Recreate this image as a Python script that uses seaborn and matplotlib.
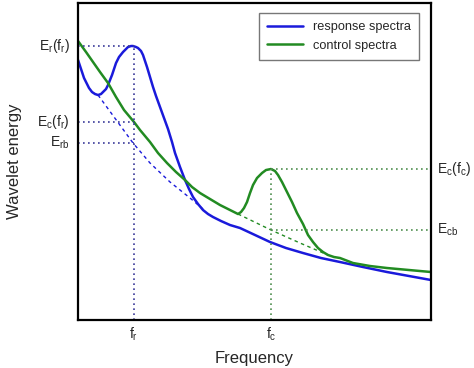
import pandas as pd
import matplotlib
matplotlib.use('Agg')
import matplotlib.pyplot as plt
import seaborn as sns

# curves (x: frequency, y: wavelet energy, arbitrary units)
resp_x = [0, 2, 4, 6, 9, 11, 14, 17, 20, 23, 25, 28, 30, 32, 34, 36, 38, 41, 45, 48,
          50, 53, 55, 58, 60, 63, 65, 67, 69, 72, 75, 78, 82, 86, 90, 94, 97, 102,
          107, 111, 115, 120, 125, 130, 135, 143, 152, 162, 177, 192, 208, 225, 243,
          262, 285, 309, 331, 353]
resp_y = [260, 254, 248, 242, 236, 232, 228, 226, 225, 226, 228, 231, 235, 240, 245,
          251, 257, 263, 268, 271, 273, 274, 274, 273, 272, 269, 265, 259, 253, 243,
          233, 224, 213, 202, 191, 178, 167, 153, 140, 131, 123, 116, 110, 106, 103,
          99, 95, 92, 85, 78, 72, 67, 62, 58, 53, 48, 44, 40]

resp_base_x = [20, 55, 72, 92, 112, 125]
resp_base_y = [225, 177, 157, 138, 122, 111]

ctrl_x = [0, 8, 15, 22, 30, 38, 46, 51, 56, 62, 67, 72, 80, 89, 98, 107, 114, 122,
          132, 142, 152, 156, 160, 163, 166, 169, 172, 175, 179, 184, 188, 193, 197,
          200, 204, 209, 214, 219, 225, 230, 235, 240, 245, 250, 256, 262, 275, 292,
          309, 331, 353]
ctrl_y = [279, 268, 258, 248, 237, 223, 210, 204, 198, 190, 184, 178, 167, 157, 148,
          140, 133, 127, 121, 115, 110, 108, 106, 108, 112, 118, 127, 135, 142, 147,
          150, 151, 149, 145, 138, 128, 118, 107, 96, 85, 78, 72, 68, 65, 63, 62, 57,
          54, 52, 50, 48]

ctrl_base_x = [160, 193, 222, 250]
ctrl_base_y = [106, 90, 77, 65]

f_r, f_c = 56, 193
E_r_fr, E_c_fr, E_rb = 274, 198, 177
E_c_fc, E_cb = 151, 90

blue = '#1a1adb'
green = '#228b22'
dot_blue = '#3a3a9a'
dot_green = '#4f8f4f'

sns.set_style('white')
plt.rcParams['font.family'] = ['Liberation Sans', 'DejaVu Sans']
plt.rcParams['mathtext.fontset'] = 'custom'
plt.rcParams['mathtext.rm'] = 'Liberation Sans'

fig = plt.figure(figsize=(4.74, 3.68), dpi=100)
ax = fig.add_axes([0.1646, 0.1304, 0.7447, 0.8614])

resp = pd.DataFrame({'x': resp_x, 'y': resp_y})
ctrl = pd.DataFrame({'x': ctrl_x, 'y': ctrl_y})
sns.lineplot(data=resp, x='x', y='y', color=blue, lw=1.8, label='response spectra',
             ax=ax, sort=False, solid_joinstyle='round')
sns.lineplot(data=ctrl, x='x', y='y', color=green, lw=1.8, label='control spectra',
             ax=ax, sort=False, solid_joinstyle='round')
ax.plot(resp_base_x, resp_base_y, color=blue, lw=1.0, ls=(0, (2.5, 2.5)))
ax.plot(ctrl_base_x, ctrl_base_y, color=green, lw=1.0, ls=(0, (2.5, 2.5)))

dots = (0, (1, 2))
xmax, ymin = 353, 0
# response markers
ax.plot([0, f_r], [E_r_fr, E_r_fr], color=dot_blue, lw=1.2, ls=dots)
ax.plot([0, f_r], [E_c_fr, E_c_fr], color=dot_blue, lw=1.2, ls=dots)
ax.plot([0, f_r], [E_rb, E_rb], color=dot_blue, lw=1.2, ls=dots)
ax.plot([f_r, f_r], [ymin, E_r_fr], color=dot_blue, lw=1.2, ls=dots)
# control markers
ax.plot([f_c, xmax], [E_c_fc, E_c_fc], color=dot_green, lw=1.2, ls=dots)
ax.plot([f_c, xmax], [E_cb, E_cb], color=dot_green, lw=1.2, ls=dots)
ax.plot([f_c, f_c], [ymin, E_c_fc], color=dot_green, lw=1.2, ls=dots)

ax.set_xlim(0, xmax)
ax.set_ylim(ymin, 317)
ax.set_xticks([])
ax.set_yticks([])
for s in ax.spines.values():
    s.set_linewidth(1.6)
    s.set_color('black')

lbl = dict(fontsize=10, va='center')
ax.text(-8, E_r_fr, r'E$_\mathregular{r}$(f$_\mathregular{r}$)', ha='right', **lbl)
ax.text(-8, E_c_fr, r'E$_\mathregular{c}$(f$_\mathregular{r}$)', ha='right', **lbl)
ax.text(-8, E_rb, r'E$_\mathregular{rb}$', ha='right', **lbl)
ax.text(xmax + 6, E_c_fc, r'E$_\mathregular{c}$(f$_\mathregular{c}$)', ha='left', **lbl)
ax.text(xmax + 6, E_cb, r'E$_\mathregular{cb}$', ha='left', **lbl)
ax.text(f_r, -14, r'f$_\mathregular{r}$', ha='center', fontsize=10, va='center')
ax.text(f_c, -14, r'f$_\mathregular{c}$', ha='center', fontsize=10, va='center')

ax.set_xlabel('Frequency', fontsize=12, labelpad=22)
ax.set_ylabel('Wavelet energy', fontsize=12, labelpad=40)

leg = ax.legend(loc='upper right', fontsize=9.2, frameon=True, fancybox=False,
                edgecolor='#555555', handlelength=2.8, borderpad=0.65,
                borderaxespad=0, bbox_to_anchor=(0.966, 0.968))
leg.get_frame().set_linewidth(1.0)

fig.savefig('out.png', dpi=100)
